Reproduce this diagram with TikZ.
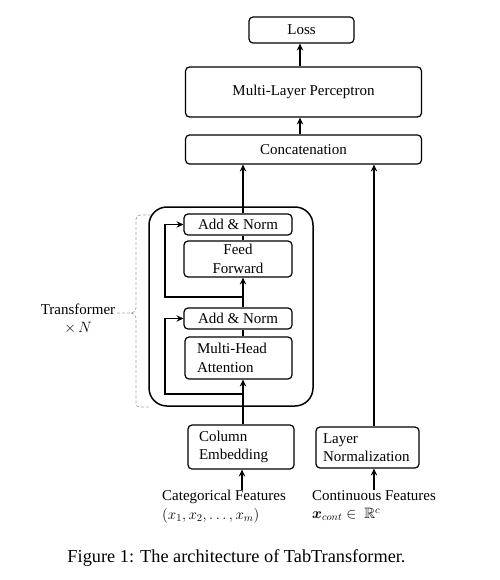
\RequirePackage{fix-cm}
\documentclass[tikz,border=0pt]{standalone}
\usepackage{amssymb}
\usepackage{bm}
\usepackage{fontspec}
\setmainfont{Liberation Serif}
\usetikzlibrary{arrows.meta,calc}
\newcommand{\lblfont}{\fontsize{15}{18.5}\selectfont}
\tikzset{
  box/.style={draw, rounded corners=4pt, line width=1.2pt, inner sep=0pt, align=center, font=\lblfont},
  lbox/.style={draw, rounded corners=4pt, line width=1.2pt, inner ysep=0pt, align=left, font=\lblfont},
  arr/.style={line width=1.3pt, -{Stealth[length=7pt,width=6.5pt,inset=2.5pt]}},
  ln/.style={line width=1.3pt},
  brace/.style={draw=gray!70, line width=0.8pt, dash pattern=on 3pt off 2pt},
  txt/.style={font=\lblfont, inner sep=0pt}
}
\begin{document}
\begin{tikzpicture}[x=1pt,y=-1pt]
\useasboundingbox (0,0) rectangle (499,580);
% top boxes
\node[box, minimum width=105pt, minimum height=26pt] (loss) at (301.5,30) {Loss};
\node[box, minimum width=236pt, minimum height=50pt] (mlp) at (303.5,92) {Multi-Layer Perceptron};
\node[box, minimum width=236pt, minimum height=29pt] (concat) at (303.5,149.5) {Concatenation};
% transformer block
\node[draw, rounded corners=18pt, line width=1.5pt, minimum width=164pt, minimum height=199pt, inner sep=0pt] (outer) at (231,306.5) {};
\node[box, minimum width=108pt, minimum height=21pt] (ant) at (238,224.5) {Add \& Norm};
\node[box, minimum width=108pt, minimum height=36pt] (ff) at (238,259) {Feed\\Forward};
\node[box, minimum width=108pt, minimum height=21pt] (anb) at (238,318.5) {Add \& Norm};
\node[lbox, inner xsep=12pt, text width=83pt, minimum height=42pt] (mha) at (238.5,358) {Multi-Head\\Attention};
% bottom boxes
\node[lbox, inner xsep=11pt, text width=84pt, minimum height=44pt] (col) at (241,447) {Column\\Embedding};
\node[lbox, inner xsep=7pt, text width=89pt, minimum height=41pt] (lnorm) at (367.5,447.5) {Layer\\Normalization};
% inputs
\node[txt, anchor=north west, align=left] (cat) at (162,490) {Categorical Features\\$(x_1, x_2, \dots, x_m)$};
\node[txt, anchor=north west, align=left] (cont) at (312,490) {Continuous Features\\$\bm{x}_{cont} \in\ \mathbb{R}^c$};
% transformer label
\node[txt, align=center] (tlabel) at (78,319) {Transformer\\$\times\,N$};
% caption
\node[inner sep=0pt, font=\fontsize{18.3}{22}\selectfont] (caption) at (236.5,558) {Figure 1: The architecture of TabTransformer.};
% coordinates
\coordinate (mx) at (243,0);
\coordinate (cx) at (374,0);
\coordinate (kx) at (300,0);
\coordinate (ex) at (242,0);
\coordinate (s1) at (243,297);
\coordinate (s2) at (243,394);
\coordinate (bt) at (136,313);
% connectors top
\draw[arr] (mlp.north -| kx) -- (loss.south -| kx);
\draw[arr] (concat.north -| kx) -- (mlp.south -| kx);
\draw[arr] (ant.north -| mx) -- (concat.south -| mx);
\draw[arr] (lnorm.north -| cx) -- (concat.south -| cx);
% inside transformer
\draw[ln] (ff.north -| mx) -- (ant.south -| mx);
\draw[arr] (anb.north -| mx) -- (ff.south -| mx);
\draw[ln] (mha.north -| mx) -- (anb.south -| mx);
\draw[arr] (col.north -| mx) -- (mha.south -| mx);
\draw[arr] (s1) -- ++(-78,0) |- (ant.west);
\draw[arr] (s2) -- ++(-78,0) |- (anb.west);
% inputs
\draw[arr] (cat.north -| ex) -- (col.south -| ex);
\draw[arr] (cont.north -| cx) -- (lnorm.south -| cx);
% dashed brace
\draw[brace] (151,215) -- (140,215) .. controls (137.5,215) and (136,216.5) .. (136,219) -- (136,308)
  .. controls (136,311) and (134,313) .. (131,313) -- (tlabel.east |- bt);
\draw[brace] (131,313) .. controls (134,313) and (136,315) .. (136,318) -- (136,403)
  .. controls (136,405.5) and (137.5,407) .. (140,407) -- (151,407);
\end{tikzpicture}
\end{document}
